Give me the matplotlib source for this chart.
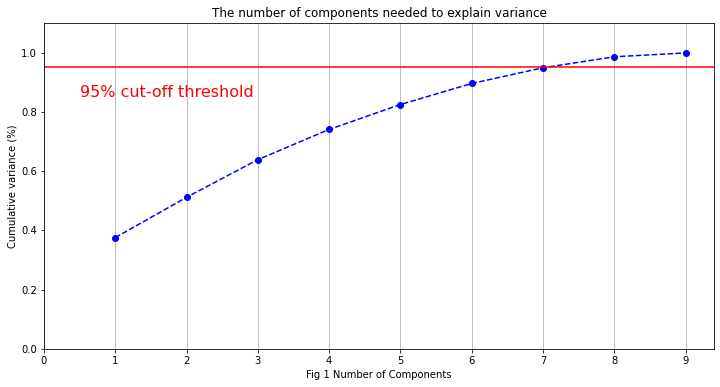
import numpy as np
import matplotlib
matplotlib.use("Agg")
import matplotlib.pyplot as plt

components = [1, 2, 3, 4, 5, 6, 7, 8, 9]
cum_var = [0.376, 0.512, 0.639, 0.741, 0.825, 0.896, 0.949, 0.986, 0.999]
threshold = 0.95

fig, ax = plt.subplots(figsize=(10, 5.375), dpi=72)
fig.subplots_adjust(left=0.061, right=0.992, top=0.9406, bottom=0.098)

ax.set_ylim(0.0, 1.1)
ax.plot(components, cum_var, marker='o', linestyle='--', color='b')
ax.set_xlim(left=0)
ax.set_xticks(np.arange(0, 10, step=1))

ax.set_xlabel("Fig 1 Number of Components")
ax.set_ylabel("Cumulative variance (%)")
ax.set_title("The number of components needed to explain variance")

ax.axhline(y=threshold, color='r', linestyle='-')
ax.text(0.5, 0.85, "95% cut-off threshold", color='red', fontsize=16)

ax.grid(axis='x')
fig.savefig("out.png")
